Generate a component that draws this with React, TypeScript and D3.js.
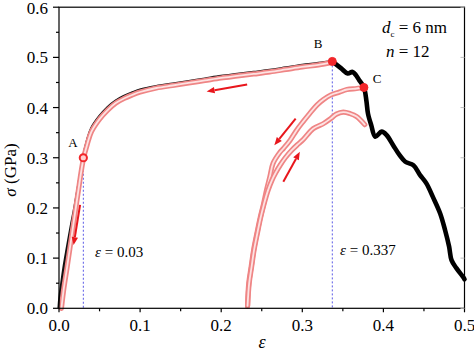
import React from "react";
import * as d3 from "d3";

const W = 474;
const H = 353;

const xTicks = [0, 0.1, 0.2, 0.3, 0.4, 0.5];
const xMinor = [0.05, 0.15, 0.25, 0.35, 0.45];
const yTicks = [0, 0.1, 0.2, 0.3, 0.4, 0.5, 0.6];
const yMinor = [0.05, 0.15, 0.25, 0.35, 0.45, 0.55];

// loading curve (black), origin to B
const loadEps = [0, 0.001, 0.003, 0.006, 0.01, 0.015, 0.02, 0.025, 0.03, 0.035, 0.04, 0.05, 0.06, 0.07, 0.08, 0.09, 0.1, 0.12, 0.14, 0.16, 0.18, 0.2, 0.22, 0.24, 0.26, 0.28, 0.3, 0.32, 0.337];
const loadSig = [0, 0.02, 0.045, 0.08, 0.118, 0.163, 0.205, 0.252, 0.3, 0.334, 0.358, 0.382, 0.4, 0.413, 0.422, 0.429, 0.435, 0.442, 0.447, 0.452, 0.457, 0.462, 0.466, 0.47, 0.474, 0.479, 0.484, 0.488, 0.492];

// softening branch after B (black)
const postEps = [0.337, 0.348, 0.356, 0.362, 0.366, 0.37, 0.376, 0.379, 0.381, 0.385, 0.39, 0.398, 0.404, 0.412, 0.42, 0.427, 0.437, 0.445, 0.453, 0.461, 0.47, 0.476, 0.481, 0.484, 0.49, 0.498, 0.5];
const postSig = [0.492, 0.478, 0.468, 0.471, 0.465, 0.455, 0.44, 0.414, 0.388, 0.365, 0.342, 0.352, 0.345, 0.325, 0.305, 0.292, 0.285, 0.266, 0.249, 0.222, 0.189, 0.156, 0.123, 0.096, 0.08, 0.063, 0.058];

// unloading from B (red)
const unBEps = [0.337, 0.32, 0.3, 0.28, 0.26, 0.24, 0.22, 0.2, 0.18, 0.16, 0.14, 0.12, 0.1, 0.09, 0.08, 0.07, 0.06, 0.05, 0.04, 0.035, 0.03, 0.025, 0.02, 0.015, 0.01, 0.006, 0.003];
const unBSig = [0.49, 0.485, 0.481, 0.476, 0.471, 0.467, 0.463, 0.459, 0.454, 0.449, 0.444, 0.439, 0.431, 0.425, 0.418, 0.409, 0.395, 0.377, 0.352, 0.328, 0.297, 0.247, 0.192, 0.137, 0.082, 0.04, 0.0];

// unloading from C (red)
const unCEps = [0.376, 0.367, 0.355, 0.346, 0.335, 0.326, 0.318, 0.309, 0.301, 0.293, 0.285, 0.277, 0.272, 0.264, 0.26, 0.256, 0.252, 0.248, 0.244, 0.24, 0.237, 0.234, 0.2325];
const unCSig = [0.44, 0.438, 0.436, 0.431, 0.425, 0.416, 0.405, 0.388, 0.372, 0.355, 0.335, 0.319, 0.31, 0.289, 0.262, 0.236, 0.206, 0.18, 0.149, 0.116, 0.083, 0.05, 0.005];

// reloading (red)
const reEps = [0.2325, 0.2345, 0.2375, 0.2405, 0.2445, 0.2485, 0.2525, 0.2575, 0.2625, 0.2675, 0.273, 0.279, 0.287, 0.294, 0.301, 0.3135, 0.326, 0.335, 0.342, 0.3505, 0.359, 0.367, 0.377];
const reSig = [0.005, 0.05, 0.083, 0.116, 0.149, 0.18, 0.206, 0.234, 0.255, 0.271, 0.286, 0.3, 0.315, 0.326, 0.336, 0.358, 0.368, 0.378, 0.387, 0.391, 0.388, 0.382, 0.366];

// key points A, B, C
const keyNames = ["A", "B", "C"];
const keyEps = [0.03, 0.337, 0.376];
const keySig = [0.3, 0.492, 0.44];

// arrows: [tailEps, tailSig, headEps, headSig]
const arrows = [
  [0.232, 0.446, 0.182, 0.432],
  [0.026, 0.206, 0.018, 0.126],
  [0.2918, 0.378, 0.2655, 0.325],
  [0.2766, 0.252, 0.297, 0.312],
];

const x = d3.scaleLinear().domain([0, 0.5]).range([59, 464.5]);
const y = d3.scaleLinear().domain([0, 0.6]).range([308.3, 7.2]);

const zip = (a: number[], b: number[]) => a.map((v, i) => [v, b[i]] as [number, number]);

const line = d3
  .line<[number, number]>()
  .x((d) => x(d[0]))
  .y((d) => y(d[1]))
  .curve(d3.curveCatmullRom.alpha(0.5));

const serif = "'Liberation Serif', 'Times New Roman', serif";
const ts = { fontFamily: serif };

function Tube({ pts }: { pts: [number, number][] }) {
  const d = line(pts) || "";
  return (
    <g>
      <path d={d} fill="none" stroke="#ef8585" strokeWidth={5.2} strokeLinecap="round" strokeLinejoin="round" />
      <path d={d} fill="none" stroke="#fde2e2" strokeWidth={1.8} strokeLinecap="round" strokeLinejoin="round" />
    </g>
  );
}

function Arrow({ a }: { a: number[] }) {
  const x1 = x(a[0]), y1 = y(a[1]), x2 = x(a[2]), y2 = y(a[3]);
  const ang = Math.atan2(y2 - y1, x2 - x1);
  const hl = 8, hw = 3.2;
  const bx = x2 - hl * Math.cos(ang), by = y2 - hl * Math.sin(ang);
  const px = -Math.sin(ang), py = Math.cos(ang);
  const pts = `${x2},${y2} ${bx + hw * px},${by + hw * py} ${bx - hw * px},${by - hw * py}`;
  return (
    <g>
      <line x1={x1} y1={y1} x2={bx} y2={by} stroke="#e8161c" strokeWidth={2} />
      <polygon points={pts} fill="#e8161c" />
    </g>
  );
}

export default function App() {
  const loadPts = zip(loadEps, loadSig);
  const postPts = zip(postEps, postSig);
  return (
    <svg
      width={W}
      height={H}
      viewBox={`0 0 ${W} ${H}`}
      style={{ position: "fixed", left: 0, top: 0, background: "#fff", fontFamily: serif }}
    >
      <rect x={0} y={0} width={W} height={H} fill="#fff" />
      {/* dashed guides */}
      <line x1={x(keyEps[0])} x2={x(keyEps[0])} y1={y(keySig[0])} y2={y(0)} stroke="#5a5ae6" strokeWidth={1} strokeDasharray="2,2" />
      <line x1={x(keyEps[1])} x2={x(keyEps[1])} y1={y(keySig[1])} y2={y(0)} stroke="#5a5ae6" strokeWidth={1} strokeDasharray="2,2" />

      {/* loading black */}
      <path d={line(loadPts) || ""} fill="none" stroke="#111" strokeWidth={3.2} strokeLinejoin="round" />
      {/* unloading from B */}
      <Tube pts={zip(unBEps, unBSig)} />
      {/* unloading from C and reloading */}
      <Tube pts={zip(unCEps, unCSig)} />
      <Tube pts={zip(reEps, reSig)} />
      {/* softening black */}
      <path d={line(postPts) || ""} fill="none" stroke="#000" strokeWidth={4.6} strokeLinejoin="round" strokeLinecap="round" />

      {/* key markers */}
      {keyNames.map((n, i) => (
        <circle
          key={n}
          cx={x(keyEps[i])}
          cy={y(keySig[i])}
          r={i === 0 ? 3.6 : 4}
          fill={i === 0 ? "#ffd0d0" : "#f2262a"}
          stroke="#f2262a"
          strokeWidth={i === 0 ? 2 : 1}
        />
      ))}
      <text style={ts} x={73} y={147} fontSize={13} textAnchor="middle">A</text>
      <text style={ts} x={318} y={48} fontSize={13} textAnchor="middle">B</text>
      <text style={ts} x={377} y={83} fontSize={13} textAnchor="middle">C</text>

      {arrows.map((a, i) => (
        <Arrow key={i} a={a} />
      ))}

      {/* frame */}
      <rect x={x(0)} y={y(0.6)} width={x(0.5) - x(0)} height={y(0) - y(0.6)} fill="none" stroke="#000" strokeWidth={1.2} />

      {/* x axis ticks */}
      {xTicks.map((t) => (
        <g key={"x" + t}>
          <line x1={x(t)} x2={x(t)} y1={y(0)} y2={y(0) + 4} stroke="#000" strokeWidth={1.2} />
          <text style={ts} x={x(t)} y={331} fontSize={17} textAnchor="middle">{t.toFixed(1)}</text>
        </g>
      ))}
      {xMinor.map((t) => (
        <line key={"xm" + t} x1={x(t)} x2={x(t)} y1={y(0)} y2={y(0) + 3} stroke="#000" strokeWidth={1.2} />
      ))}
      {/* y axis ticks */}
      {yTicks.map((t) => (
        <g key={"y" + t}>
          <line x1={x(0) - 6} x2={x(0)} y1={y(t)} y2={y(t)} stroke="#000" strokeWidth={1.2} />
          <line x1={x(0.5) - 4} x2={x(0.5)} y1={y(t)} y2={y(t)} stroke="#bbb" strokeWidth={1} />
          <text style={ts} x={48} y={Math.max(y(t), 8)} dy="0.35em" fontSize={17} textAnchor="end">{t.toFixed(1)}</text>
        </g>
      ))}
      {yMinor.map((t) => (
        <line key={"ym" + t} x1={x(0) - 3} x2={x(0)} y1={y(t)} y2={y(t)} stroke="#000" strokeWidth={1.2} />
      ))}

      {/* axis labels */}
      <text style={ts} transform="translate(16,170) rotate(-90)" fontSize={17} textAnchor="middle">
        <tspan fontStyle="italic">σ</tspan> (GPa)
      </text>
      <text style={ts} x={262} y={348} fontSize={18} fontStyle="italic" textAnchor="middle">ε</text>

      {/* annotations */}
      <text style={ts} x={95} y={257} fontSize={15}>
        <tspan fontStyle="italic">ε</tspan> = 0.03
      </text>
      <text style={ts} x={340} y={255} fontSize={15}>
        <tspan fontStyle="italic">ε</tspan> = 0.337
      </text>
      <text style={ts} x={382} y={33} fontSize={17}>
        <tspan fontStyle="italic">d</tspan>
        <tspan fontSize={9} dy={4}>c</tspan>
        <tspan dy={-4}> = 6 nm</tspan>
      </text>
      <text style={ts} x={386} y={57} fontSize={17}>
        <tspan fontStyle="italic">n</tspan> = 12
      </text>
    </svg>
  );
}
